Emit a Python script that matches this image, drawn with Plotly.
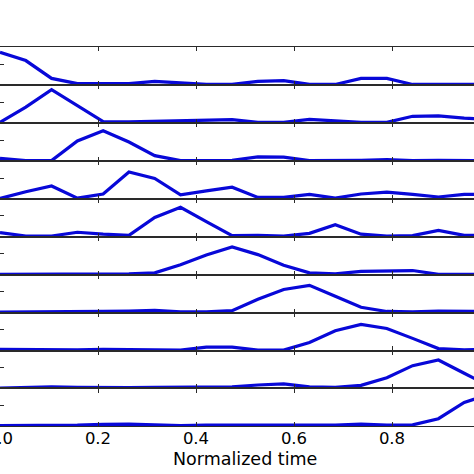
import plotly.graph_objects as go

# 20 samples over normalized time 0..1
time = [i / 19 for i in range(20)]
tick_vals = [0.0, 0.2, 0.4, 0.6, 0.8, 1.0]
tick_text = ["0.0", "0.2", "0.4", "0.6", "0.8", "1.0"]

# values per panel (top to bottom), in units of panel height
s1 = [0.87, 0.65, 0.18, 0.04, 0.04, 0.04, 0.10, 0.06, 0.02, 0.02, 0.10, 0.12, 0.02, 0.02, 0.18, 0.18, 0.02, 0.02, 0.03, 0.02]
s2 = [0.02, 0.42, 0.88, 0.46, 0.04, 0.03, 0.04, 0.05, 0.06, 0.09, 0.02, 0.02, 0.10, 0.07, 0.02, 0.02, 0.18, 0.19, 0.13, 0.10]
s3 = [0.07, 0.01, 0.01, 0.53, 0.80, 0.50, 0.14, 0.01, 0.01, 0.02, 0.11, 0.10, 0.01, 0.01, 0.02, 0.04, 0.01, 0.02, 0.01, 0.01]
s4 = [0.01, 0.19, 0.34, 0.02, 0.13, 0.71, 0.54, 0.11, 0.21, 0.31, 0.04, 0.04, 0.12, 0.02, 0.13, 0.18, 0.12, 0.05, 0.12, 0.12]
s5 = [0.11, 0.02, 0.02, 0.12, 0.07, 0.04, 0.51, 0.78, 0.40, 0.03, 0.04, 0.02, 0.09, 0.32, 0.07, 0.02, 0.03, 0.17, 0.04, 0.03]
s6 = [0.01, 0.01, 0.01, 0.02, 0.01, 0.02, 0.05, 0.26, 0.52, 0.73, 0.53, 0.25, 0.05, 0.02, 0.09, 0.10, 0.11, 0.01, 0.01, 0.01]
s7 = [0.01, 0.01, 0.01, 0.01, 0.03, 0.04, 0.06, 0.02, 0.02, 0.05, 0.35, 0.61, 0.72, 0.43, 0.14, 0.03, 0.02, 0.04, 0.03, 0.03]
s8 = [0.03, 0.02, 0.02, 0.02, 0.03, 0.03, 0.01, 0.01, 0.09, 0.09, 0.01, 0.01, 0.21, 0.52, 0.69, 0.58, 0.32, 0.05, 0.02, 0.03]
s9 = [0.01, 0.03, 0.04, 0.03, 0.02, 0.02, 0.03, 0.03, 0.02, 0.04, 0.09, 0.12, 0.04, 0.03, 0.08, 0.28, 0.60, 0.75, 0.40, 0.05]
s10 = [0.02, 0.02, 0.02, 0.03, 0.05, 0.06, 0.04, 0.02, 0.03, 0.03, 0.02, 0.02, 0.04, 0.03, 0.06, 0.03, 0.04, 0.20, 0.63, 0.85]
series = [s1, s2, s3, s4, s5, s6, s7, s8, s9, s10]

W = H = 474
top0 = 47.3
ph = 37.9
xmax = 474 / 490

fig = go.Figure()
layout = dict(
    width=W, height=H,
    margin=dict(l=0, r=0, t=0, b=0, autoexpand=False),
    paper_bgcolor="white", plot_bgcolor="white",
    showlegend=False,
    font=dict(family="DejaVu Sans", size=16, color="black"),
)
spine = "#2a2a2a"
n = len(series)
for k, s in enumerate(series):
    idx = "" if k == 0 else str(k + 1)
    fig.add_trace(go.Scatter(x=time, y=s, mode="lines",
                             line=dict(color="#0808d8", width=3.2),
                             xaxis="x" + idx, yaxis="y" + idx,
                             hoverinfo="skip"))
    top = top0 + ph * k
    bot = top + ph
    layout["xaxis" + idx] = dict(
        domain=[0, 1], range=[0, xmax], anchor="y" + idx, automargin=False,
        showline=True, linecolor=spine, linewidth=1.2, mirror="ticks",
        ticks="inside", ticklen=4, tickcolor=spine, tickwidth=1,
        tickvals=tick_vals, ticktext=tick_text, ticklabeloverflow="allow",
        showticklabels=(k == n - 1), showgrid=False, zeroline=False,
        ticklabelstandoff=-3,
        tickfont=dict(family="DejaVu Sans", size=16.5, color="black"),
    )
    layout["yaxis" + idx] = dict(
        domain=[(H - bot) / H, (H - top) / H], range=[0, 1], anchor="x" + idx,
        automargin=False,
        showline=False, ticks="inside", ticklen=4, tickcolor=spine, tickwidth=1,
        tickvals=[0.55], showticklabels=False, showgrid=False, zeroline=False,
    )

layout["annotations"] = [dict(
    text="Normalized time", xref="paper", yref="paper",
    x=245 / W, y=(H - 459) / H, xanchor="center", yanchor="middle",
    showarrow=False, font=dict(family="DejaVu Sans", size=17.5, color="black"),
)]
fig.update_layout(**layout)
fig.write_html("out.html")
